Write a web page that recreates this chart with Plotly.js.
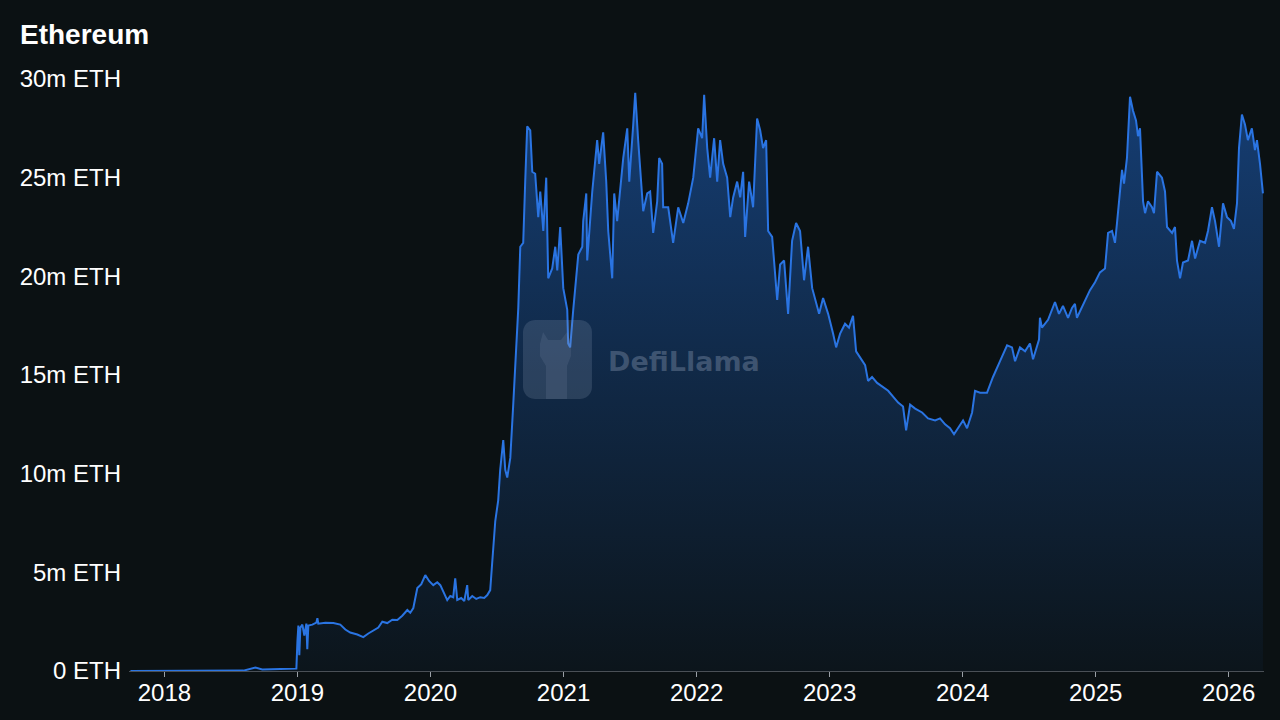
<!DOCTYPE html>
<html>
<head>
<meta charset="utf-8">
<script src="https://cdn.plot.ly/plotly-3.0.1.min.js"></script>
<style>
  html, body { margin: 0; padding: 0; background: #0b1113; }
  #chart { width: 1280px; height: 720px; }
</style>
</head>
<body>
<div id="chart"></div>
<script>
// Time as decimal years, value in millions of ETH
const years = [
  2017.745, 2017.970, 2018.270, 2018.571, 2018.594, 2018.684, 2018.736, 2018.872, 2018.992,
  2019.000, 2019.007, 2019.014, 2019.022, 2019.037, 2019.052, 2019.067, 2019.074, 2019.082,
  2019.112, 2019.142, 2019.150, 2019.157, 2019.210, 2019.270, 2019.322, 2019.360, 2019.397,
  2019.450, 2019.495, 2019.533, 2019.570, 2019.608, 2019.638, 2019.675, 2019.713, 2019.751,
  2019.788, 2019.826, 2019.848, 2019.871, 2019.901, 2019.931, 2019.961, 2019.991, 2020.021,
  2020.051, 2020.074, 2020.104, 2020.126, 2020.149, 2020.171, 2020.186, 2020.201, 2020.231,
  2020.254, 2020.276, 2020.284, 2020.314, 2020.344, 2020.374, 2020.404, 2020.427, 2020.449,
  2020.464, 2020.487, 2020.509, 2020.524, 2020.547, 2020.562, 2020.577, 2020.600, 2020.622,
  2020.637, 2020.660, 2020.675, 2020.697, 2020.712, 2020.727, 2020.750, 2020.765, 2020.787,
  2020.810, 2020.825, 2020.848, 2020.870, 2020.885, 2020.915, 2020.938, 2020.953, 2020.975,
  2020.998, 2021.028, 2021.035, 2021.050, 2021.073, 2021.111, 2021.141, 2021.148, 2021.171,
  2021.178, 2021.216, 2021.238, 2021.253, 2021.268, 2021.298, 2021.321, 2021.336, 2021.366,
  2021.381, 2021.403, 2021.426, 2021.449, 2021.479, 2021.494, 2021.524, 2021.539, 2021.561,
  2021.591, 2021.599, 2021.629, 2021.651, 2021.674, 2021.704, 2021.719, 2021.741, 2021.749,
  2021.787, 2021.824, 2021.862, 2021.900, 2021.937, 2021.975, 2022.012, 2022.042, 2022.057,
  2022.080, 2022.102, 2022.132, 2022.155, 2022.177, 2022.200, 2022.230, 2022.253, 2022.275,
  2022.305, 2022.328, 2022.350, 2022.365, 2022.395, 2022.425, 2022.455, 2022.478, 2022.500,
  2022.523, 2022.538, 2022.568, 2022.591, 2022.606, 2022.628, 2022.658, 2022.688, 2022.718,
  2022.748, 2022.778, 2022.808, 2022.838, 2022.869, 2022.891, 2022.921, 2022.951, 2022.989,
  2023.026, 2023.049, 2023.079, 2023.116, 2023.146, 2023.176, 2023.199, 2023.229, 2023.267,
  2023.289, 2023.319, 2023.357, 2023.402, 2023.440, 2023.477, 2023.515, 2023.552, 2023.575,
  2023.605, 2023.643, 2023.695, 2023.740, 2023.793, 2023.830, 2023.868, 2023.905, 2023.935,
  2023.965, 2024.003, 2024.033, 2024.071, 2024.093, 2024.131, 2024.183, 2024.228, 2024.281,
  2024.334, 2024.371, 2024.394, 2024.431, 2024.469, 2024.506, 2024.529, 2024.574, 2024.581,
  2024.596, 2024.642, 2024.694, 2024.724, 2024.754, 2024.792, 2024.822, 2024.844, 2024.859,
  2024.905, 2024.957, 2024.995, 2025.032, 2025.070, 2025.093, 2025.123, 2025.145, 2025.160,
  2025.183, 2025.198, 2025.213, 2025.235, 2025.258, 2025.280, 2025.303, 2025.318, 2025.333,
  2025.356, 2025.371, 2025.393, 2025.423, 2025.438, 2025.461, 2025.498, 2025.521, 2025.536,
  2025.574, 2025.596, 2025.611, 2025.634, 2025.656, 2025.694, 2025.724, 2025.747, 2025.784,
  2025.822, 2025.844, 2025.874, 2025.897, 2025.927, 2025.957, 2025.987, 2026.017, 2026.039,
  2026.062, 2026.077, 2026.099, 2026.122, 2026.144, 2026.174, 2026.197, 2026.212, 2026.235,
  2026.257
];

const ethLockedM = [
  0.00, 0.01, 0.03, 0.05, 0.02, 0.17, 0.08, 0.10, 0.12,
  1.50, 2.30, 0.80, 2.20, 2.35, 1.80, 2.40, 1.10, 2.30,
  2.35, 2.45, 2.68, 2.40, 2.45, 2.43, 2.35, 2.10, 1.95,
  1.85, 1.72, 1.90, 2.07, 2.20, 2.50, 2.43, 2.60, 2.58,
  2.80, 3.09, 2.95, 3.19, 4.20, 4.40, 4.86, 4.55, 4.35,
  4.50, 4.35, 3.90, 3.59, 3.80, 3.74, 4.70, 3.60, 3.70,
  3.55, 4.35, 3.60, 3.80, 3.65, 3.74, 3.70, 3.85, 4.10,
  5.50, 7.60, 8.65, 10.2, 11.7, 10.2, 9.80, 10.8, 13.5,
  15.6, 18.4, 21.5, 21.7, 24.8, 27.6, 27.4, 25.3, 25.2,
  23.0, 24.3, 22.3, 25.0, 19.9, 20.4, 21.5, 20.3, 22.5,
  19.4, 18.3, 16.6, 16.4, 18.3, 21.1, 21.5, 22.8, 24.2,
  20.8, 24.3, 25.7, 26.9, 25.7, 27.3, 24.8, 22.3, 19.9,
  24.2, 22.8, 24.3, 26.0, 27.5, 24.8, 27.7, 29.3, 26.9,
  24.3, 23.3, 24.2, 24.3, 22.2, 23.8, 26.0, 25.7, 23.5,
  23.5, 21.7, 23.5, 22.7, 23.7, 25.0, 27.5, 27.0, 29.2,
  26.5, 25.0, 27.0, 24.8, 26.9, 25.7, 25.0, 23.0, 24.0,
  24.8, 24.0, 25.3, 22.0, 24.8, 23.5, 28.0, 27.4, 26.5,
  26.9, 22.3, 22.0, 20.1, 18.8, 20.6, 20.8, 18.1, 21.8,
  22.7, 22.3, 19.8, 21.5, 19.4, 18.9, 18.1, 18.9, 18.1,
  17.1, 16.4, 17.1, 17.6, 17.4, 18.0, 16.2, 15.9, 15.5,
  14.7, 14.9, 14.6, 14.4, 14.2, 13.9, 13.6, 13.4, 12.2,
  13.5, 13.3, 13.1, 12.8, 12.7, 12.8, 12.5, 12.3, 12.0,
  12.3, 12.7, 12.3, 13.1, 14.2, 14.1, 14.1, 14.9, 15.7,
  16.5, 16.4, 15.7, 16.4, 16.2, 16.6, 15.8, 16.8, 17.9,
  17.4, 17.8, 18.7, 18.1, 18.5, 17.9, 18.4, 18.6, 17.9,
  18.6, 19.3, 19.7, 20.2, 20.4, 22.2, 22.3, 21.7, 22.7,
  24.3, 25.4, 24.7, 26.0, 29.1, 28.4, 27.9, 27.1, 27.5,
  23.8, 23.2, 23.8, 23.5, 23.2, 25.3, 25.0, 24.3, 22.5,
  22.2, 22.5, 20.8, 19.9, 20.7, 20.8, 21.8, 20.9, 21.8,
  21.7, 22.3, 23.5, 22.8, 21.5, 23.7, 23.0, 22.8, 22.4,
  23.7, 26.5, 28.2, 27.7, 26.9, 27.5, 26.4, 26.9, 25.7,
  24.2
];

const yTickVals = [0, 5, 10, 15, 20, 25, 30];
const yTickText = ['0 ETH', '5m ETH', '10m ETH', '15m ETH', '20m ETH', '25m ETH', '30m ETH'];
const xTickVals = [2018, 2019, 2020, 2021, 2022, 2023, 2024, 2025, 2026];
const xTickText = ['2018', '2019', '2020', '2021', '2022', '2023', '2024', '2025', '2026'];

const FONT = 'Liberation Sans, Arial, Helvetica, sans-serif';

// Watermark decoration helpers (pixel -> paper coordinates of the plot area)
const PL = 129, PR = 1264, PT = 79, PB = 671;
function px(x) { return ((x - PL) / (PR - PL)).toFixed(4); }
function py(y) { return ((PB - y) / (PB - PT)).toFixed(4); }
function pathFrom(points) {
  return 'M ' + points.map(p => px(p[0]) + ',' + py(p[1])).join(' L ') + ' Z';
}
function roundedRect(x0, y0, x1, y1, r) {
  const pts = [];
  const corners = [[x1 - r, y0 + r, -90], [x1 - r, y1 - r, 0], [x0 + r, y1 - r, 90], [x0 + r, y0 + r, 180]];
  corners.forEach(c => {
    for (let k = 0; k <= 6; k++) {
      const a = (c[2] + k * 15) * Math.PI / 180;
      pts.push([c[0] + r * Math.cos(a), c[1] + r * Math.sin(a)]);
    }
  });
  return pathFrom(pts);
}
const llama = [
  [546, 399], [546, 366], [540, 356], [540, 344], [543, 332], [548, 340],
  [561, 340], [567, 332], [571, 344], [571, 356], [567, 366], [567, 399]
];

const trace = {
  type: 'scatter',
  mode: 'lines',
  x: years,
  y: ethLockedM,
  line: { color: '#2a74e2', width: 2 },
  fill: 'tozeroy',
  fillgradient: {
    type: 'vertical',
    colorscale: [
      [0, 'rgba(33,114,229,0.04)'],
      [0.5, 'rgba(33,114,229,0.24)'],
      [1, 'rgba(33,114,229,0.46)']
    ]
  },
  hoverinfo: 'skip'
};

const layout = {
  width: 1280,
  height: 720,
  paper_bgcolor: '#0b1113',
  plot_bgcolor: '#0b1113',
  margin: { l: PL, r: 1280 - PR, t: PT, b: 720 - PB },
  showlegend: false,
  font: { family: FONT, color: '#ffffff', size: 24 },
  title: {
    text: '<b>Ethereum</b>',
    font: { family: FONT, size: 28, color: '#ffffff' },
    xref: 'container', yref: 'container',
    x: 20 / 1280, xanchor: 'left',
    y: 1 - 34 / 720, yanchor: 'middle'
  },
  xaxis: {
    type: 'linear',
    range: [2017.734, 2026.265],
    tickvals: xTickVals,
    ticktext: xTickText,
    showgrid: false,
    zeroline: false,
    showline: true,
    linecolor: '#4a5056',
    linewidth: 1,
    ticks: 'outside',
    ticklen: 5,
    tickcolor: '#9aa0a6',
    ticklabelstandoff: -5,
    tickfont: { family: FONT, size: 24, color: '#ffffff' },
    fixedrange: true
  },
  yaxis: {
    range: [0, 30],
    tickvals: yTickVals,
    ticktext: yTickText,
    showgrid: false,
    zeroline: false,
    showline: false,
    ticks: '',
    ticklabelstandoff: 7,
    tickfont: { family: FONT, size: 24, color: '#ffffff' },
    fixedrange: true
  },
  shapes: [
    {
      type: 'path', xref: 'paper', yref: 'paper',
      path: roundedRect(523, 320, 592, 399, 12),
      fillcolor: 'rgba(150,165,190,0.20)', line: { width: 0 },
      layer: 'above'
    },
    {
      type: 'path', xref: 'paper', yref: 'paper',
      path: pathFrom(llama),
      fillcolor: 'rgba(150,165,190,0.14)', line: { width: 0 },
      layer: 'above'
    }
  ],
  annotations: [
    {
      text: '<b>DefiLlama</b>', xref: 'paper', yref: 'paper',
      x: px(606), y: py(362), xanchor: 'left', yanchor: 'middle',
      showarrow: false,
      font: { family: 'DejaVu Sans, sans-serif', size: 27, color: 'rgba(150,165,190,0.35)' }
    }
  ]
};

Plotly.newPlot('chart', [trace], layout, { displayModeBar: false, staticPlot: true });
</script>
</body>
</html>
